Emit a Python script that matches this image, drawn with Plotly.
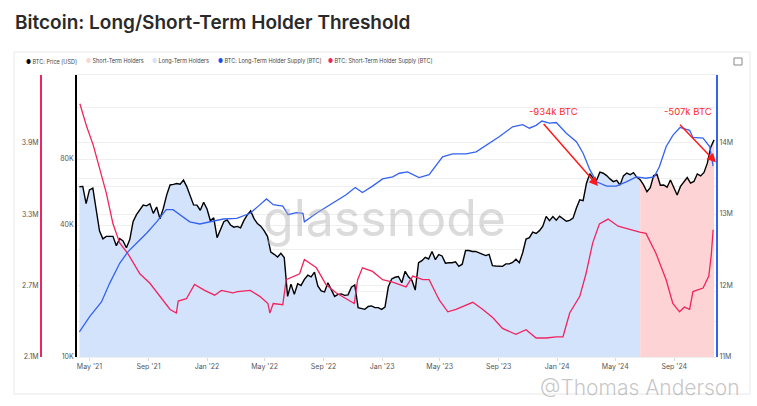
import pandas as pd
import plotly.graph_objects as go

# BTC weekly close (USD thousands), first point 2021-04-10, one value every 7 days
price_start = "2021-04-10"
price_k = [
    59.8, 60.0, 50.1,
    57.8, 58.9, 46.4, 37.5, 34.6,
    35.5, 35.5, 35.5, 32.2,
    34.7, 33.8, 31.5, 34.3, 41.5,
    44.6, 47.1, 49.3, 48.9,
    50.0, 45.2, 48.3, 42.7,
    47.7, 54.9, 60.9, 61.3, 61.8,
    61.4, 64.1, 59.7, 54.8,
    49.4, 49.3, 46.7, 50.8,
    47.3, 41.8, 43.1, 35.0, 37.9,
    41.4, 42.2, 40.0, 39.1,
    39.4, 38.8, 42.0, 44.5,
    46.4, 42.8, 40.6, 39.5, 37.7,
    35.5, 30.1, 29.4, 28.6,
    29.7, 28.4, 18.9, 21.5,
    19.3, 21.6, 21.2, 22.6, 23.6,
    23.2, 24.4, 21.1, 20.0,
    19.8, 21.8, 20.1, 18.9,
    19.3, 19.4, 19.1, 19.2, 20.8,
    21.3, 16.8, 16.7, 16.5,
    17.0, 17.1, 16.8, 16.8, 16.5,
    16.9, 20.9, 22.7, 23.1,
    23.3, 21.8, 24.6, 23.2,
    22.4, 20.2, 26.9, 27.5,
    28.5, 28.0, 30.3, 27.8, 29.3,
    28.9, 26.8, 26.9, 26.9,
    27.2, 25.9, 26.5, 30.6,
    30.6, 30.3, 30.3, 29.9, 29.3,
    29.0, 29.4, 26.1, 26.0,
    25.9, 25.9, 26.6, 26.6, 27.0,
    27.9, 26.9, 29.9, 34.5,
    35.0, 37.1, 36.6, 37.7,
    39.5, 43.8, 41.9, 43.7, 42.1,
    43.9, 42.8, 41.6, 42.0,
    43.0, 47.8, 52.1, 51.7,
    62.0, 68.5, 65.3, 64.0, 69.7,
    68.9, 67.2, 64.9, 63.1,
    63.9, 60.8, 67.0, 69.0,
    67.8, 69.3, 66.0, 64.3, 60.9,
    56.7, 59.2, 67.2, 68.0,
    60.7, 60.9, 59.5, 64.2, 58.9,
    54.8, 60.0, 63.2, 65.8,
    62.1, 63.2, 68.4, 67.0,
    69.5, 76.6, 90.6, 97.8,
]
# shading switches from long-term (blue) to short-term (pink) here
regime_switch = "2024-06-22"

sth_dates = [
    "2021-04-11", "2021-04-25", "2021-05-09", "2021-05-22", "2021-06-05", "2021-06-19",
    "2021-07-03", "2021-07-20", "2021-07-31", "2021-08-14", "2021-09-04", "2021-09-25",
    "2021-10-16", "2021-10-29", "2021-11-02", "2021-11-19", "2021-12-06", "2021-12-27",
    "2022-01-17", "2022-01-31", "2022-02-24", "2022-03-06", "2022-04-01", "2022-04-21",
    "2022-05-08", "2022-05-12", "2022-05-19", "2022-06-08", "2022-06-15", "2022-07-13",
    "2022-07-23", "2022-08-17", "2022-09-06", "2022-09-27", "2022-10-18", "2022-11-04",
    "2022-11-11", "2022-11-21", "2022-12-12", "2023-01-02", "2023-01-23", "2023-02-20",
    "2023-03-06", "2023-03-27", "2023-04-09", "2023-04-30", "2023-05-18", "2023-06-04",
    "2023-07-09", "2023-07-30", "2023-08-20", "2023-09-09", "2023-10-07", "2023-10-28",
    "2023-11-18", "2023-12-09", "2023-12-30", "2024-01-13", "2024-01-27", "2024-02-17",
    "2024-03-01", "2024-03-15", "2024-03-29", "2024-04-16", "2024-05-07", "2024-05-31",
    "2024-06-21", "2024-07-04", "2024-07-25", "2024-08-15", "2024-08-29", "2024-09-12",
    "2024-09-22", "2024-10-03", "2024-10-10", "2024-10-31", "2024-11-12", "2024-11-17",
    "2024-11-21",
]
sth_supply_m = [
    4.23, 4.04, 3.88, 3.69, 3.48, 3.22,
    3.06, 2.97, 2.90, 2.80, 2.72, 2.61,
    2.50, 2.47, 2.57, 2.59, 2.71, 2.66,
    2.62, 2.66, 2.64, 2.65, 2.66, 2.61,
    2.55, 2.47, 2.55, 2.54, 2.75, 2.80,
    2.92, 2.85, 2.71, 2.64, 2.59, 2.55,
    2.75, 2.85, 2.82, 2.75, 2.73, 2.69,
    2.78, 2.75, 2.75, 2.58, 2.48, 2.50,
    2.56, 2.50, 2.43, 2.34, 2.29, 2.33,
    2.26, 2.26, 2.27, 2.27, 2.47, 2.61,
    2.80, 3.06, 3.22, 3.26, 3.20, 3.17,
    3.15, 3.14, 2.97, 2.75, 2.55, 2.48,
    2.52, 2.50, 2.65, 2.68, 2.78, 2.95,
    3.17,
]

lth_dates = [
    "2021-04-10", "2021-05-01", "2021-05-26", "2021-06-12", "2021-07-03", "2021-07-20",
    "2021-08-07", "2021-08-28", "2021-09-18", "2021-10-08", "2021-10-22", "2021-11-05",
    "2021-11-26", "2021-12-17", "2022-01-07", "2022-02-04", "2022-03-04", "2022-04-01",
    "2022-04-18", "2022-05-05", "2022-05-19", "2022-06-08", "2022-06-19", "2022-07-06",
    "2022-07-20", "2022-07-23", "2022-08-17", "2022-09-14", "2022-10-18", "2022-11-06",
    "2022-11-21", "2022-12-12", "2023-01-02", "2023-01-23", "2023-02-06", "2023-02-23",
    "2023-03-19", "2023-04-09", "2023-05-07", "2023-05-28", "2023-06-25", "2023-07-16",
    "2023-08-12", "2023-09-02", "2023-09-30", "2023-10-21", "2023-11-04", "2023-11-18",
    "2023-11-30", "2023-12-16", "2023-12-30", "2024-01-20", "2024-02-10", "2024-02-24",
    "2024-03-09", "2024-03-23", "2024-04-13", "2024-05-03", "2024-05-24", "2024-06-14",
    "2024-07-04", "2024-07-21", "2024-08-01", "2024-08-15", "2024-08-29", "2024-09-13",
    "2024-10-03", "2024-10-10", "2024-10-31", "2024-11-14", "2024-11-21",
]
lth_supply_m = [
    11.35, 11.56, 11.77, 12.03, 12.31, 12.47,
    12.59, 12.73, 12.89, 13.06, 13.06, 12.99,
    12.89, 12.86, 12.89, 12.93, 12.94, 13.01,
    13.11, 13.21, 13.13, 13.11, 12.99, 13.02,
    13.01, 12.89, 13.01, 13.13, 13.27, 13.37,
    13.30, 13.39, 13.49, 13.52, 13.57, 13.59,
    13.51, 13.55, 13.80, 13.84, 13.84, 13.87,
    13.99, 14.08, 14.22, 14.25, 14.20, 14.24,
    14.30, 14.27, 14.28, 14.13, 14.01, 13.85,
    13.62, 13.45, 13.39, 13.39, 13.45, 13.52,
    13.50, 13.52, 13.66, 13.94, 14.10, 14.21,
    14.17, 14.07, 14.06, 13.94, 13.67,
]

# annotated drawdowns: (label, peak date, peak supply M, end date, end supply M, label date, label supply M)
drawdowns = [
    ("-934k BTC", "2023-12-01", 14.28, "2024-03-26", 13.39, "2023-12-24", 14.44),
    ("-507k BTC", "2024-09-10", 14.27, "2024-11-27", 13.72, "2024-09-30", 14.43),
]

price_tickvals = [10000, 20000, 40000, 60000, 80000]
price_ticktext = ["10K", "", "40K", "", "80K"]
sth_tickvals = [2.1e6, 2.4e6, 2.7e6, 3.0e6, 3.3e6, 3.6e6, 3.9e6, 4.2e6]
sth_ticktext = ["2.1M", "", "2.7M", "", "3.3M", "", "3.9M", ""]
lth_tickvals = [11e6, 12e6, 13e6, 14e6]
lth_ticktext = ["11M", "12M", "13M", "14M"]

C_PRICE = "#000000"
C_LTH = "#3563f0"
C_STH = "#f2245e"
C_LTH_FILL = "#d3e3fc"
C_STH_FILL = "#fed3d5"
FONT = "Inter"

W, H = 757, 406
ML, MR, MT, MB = 10, 41, 75, 49


def px_x(px):
    return (px - ML) / (W - ML - MR)


def px_y(py):
    return (H - MB - py) / (H - MT - MB)


price_dates = pd.date_range(price_start, periods=len(price_k), freq="7D")
price = pd.Series([p * 1000 for p in price_k], index=price_dates)
blue_part = price[price.index <= regime_switch]
pink_part = price[price.index >= regime_switch]

fig = go.Figure()

fig.add_trace(go.Scatter(x=blue_part.index, y=blue_part.values, mode="lines", fill="tozeroy",
                         fillcolor=C_LTH_FILL, line=dict(width=0), yaxis="y", hoverinfo="skip"))
fig.add_trace(go.Scatter(x=pink_part.index, y=pink_part.values, mode="lines", fill="tozeroy",
                         fillcolor=C_STH_FILL, line=dict(width=0), yaxis="y", hoverinfo="skip"))
fig.add_trace(go.Scatter(x=pd.to_datetime(sth_dates), y=[v * 1e6 for v in sth_supply_m],
                         mode="lines", line=dict(color=C_STH, width=1.3), yaxis="y2"))
fig.add_trace(go.Scatter(x=pd.to_datetime(lth_dates), y=[v * 1e6 for v in lth_supply_m],
                         mode="lines", line=dict(color=C_LTH, width=1.3), yaxis="y3"))
fig.add_trace(go.Scatter(x=price.index, y=price.values, mode="lines",
                         line=dict(color=C_PRICE, width=1.4), yaxis="y"))

tickfont = dict(family=FONT, size=7, color="#555555")
fig.update_layout(
    width=W, height=H,
    margin=dict(l=ML, r=MR, t=MT, b=MB),
    paper_bgcolor="white", plot_bgcolor="white",
    showlegend=False,
    title=dict(text="Bitcoin: Long/Short-Term Holder Threshold", x=15 / W, xref="container",
               xanchor="left", y=1 - 22 / H, yanchor="middle",
               font=dict(family=FONT, size=19, color="#2a2a2a", weight=600)),
    xaxis=dict(domain=[px_x(77), 1], type="date", range=["2021-04-05", "2024-11-27"],
               tickvals=pd.date_range("2021-05-01", "2024-09-01", freq="4MS"),
               tickformat="%b '%y", tickfont=tickfont, showgrid=False,
               ticks="outside", ticklen=3, tickcolor="#dddddd",
               showline=True, linecolor="#eeeeee", linewidth=1, mirror=True, zeroline=False),
    yaxis=dict(type="log", range=[4, 5.2862], tickvals=price_tickvals, ticktext=price_ticktext,
               tickfont=tickfont, showline=True, linecolor="#000000", linewidth=2,
               showgrid=True, gridcolor="#efefef", zeroline=False, ticks="", anchor="x"),
    yaxis2=dict(overlaying="y", side="left", anchor="free", position=px_x(41),
                range=[2.1e6, 4.4717e6], tickvals=sth_tickvals, ticktext=sth_ticktext,
                tickfont=tickfont, showline=True, linecolor=C_STH, linewidth=2,
                showgrid=True, gridcolor="#efefef", zeroline=False, ticks=""),
    yaxis3=dict(overlaying="y", side="right", anchor="x",
                range=[11e6, 14.944e6], tickvals=lth_tickvals, ticktext=lth_ticktext,
                tickfont=tickfont, showline=True, linecolor=C_LTH, linewidth=2,
                showgrid=False, zeroline=False, ticks=""),
    hovermode=False,
)

# card border and small camera glyph
fig.add_shape(type="rect", xref="paper", yref="paper", x0=px_x(14), x1=px_x(750),
              y0=px_y(394), y1=px_y(52), line=dict(color="#e8e8e8", width=1), layer="below")
fig.add_shape(type="rect", xref="paper", yref="paper", x0=px_x(734), x1=px_x(742),
              y0=px_y(65), y1=px_y(58), line=dict(color="#888888", width=1))

# legend row
legend_items = [
    ("BTC: Price [USD]", C_PRICE, 24),
    ("Short-Term Holders", C_STH_FILL, 84),
    ("Long-Term Holders", C_LTH_FILL, 150),
    ("BTC: Long-Term Holder Supply [BTC]", "#1f4ef0", 216),
    ("BTC: Short-Term Holder Supply [BTC]", C_STH, 326),
]
for label, color, xpos in legend_items:
    fig.add_annotation(xref="paper", yref="paper", x=px_x(xpos), y=px_y(61),
                       xanchor="left", yanchor="middle", showarrow=False,
                       text=f"<span style='color:{color}'>●</span> {label}",
                       font=dict(family=FONT, size=5.5, color="#444444"))

# watermarks
fig.add_annotation(xref="paper", yref="paper", x=px_x(384), y=px_y(218), showarrow=False,
                   text="glassnode", font=dict(family=FONT, size=50, color="rgba(175,175,175,0.45)"))
fig.add_annotation(xref="paper", yref="paper", x=px_x(742), y=px_y(387), xanchor="right",
                   yanchor="middle", showarrow=False, text="@Thomas Anderson",
                   font=dict(family=FONT, size=21, color="rgba(150,150,150,0.55)", weight=300))

# drawdown arrows
for label, d0, v0, d1, v1, dt, vt in drawdowns:
    fig.add_annotation(x=d1, y=v1 * 1e6, xref="x", yref="y3", ax=d0, ay=v0 * 1e6,
                       axref="x", ayref="y3", text="", showarrow=True, arrowhead=2,
                       arrowsize=1.2, arrowwidth=1.5, arrowcolor="#ff1a1a", standoff=0)
    fig.add_annotation(x=dt, y=vt * 1e6, xref="x", yref="y3", text=label, showarrow=False,
                       font=dict(family=FONT, size=9.5, color="#ff2a2a"))

fig.write_html("out.html", config={"displayModeBar": False},
               post_script="document.body.style.margin='0';")
